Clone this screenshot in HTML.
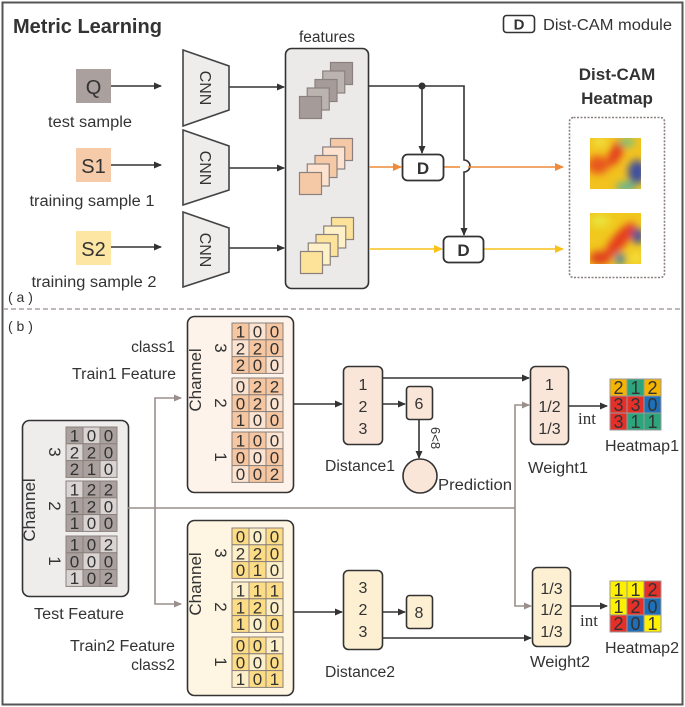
<!DOCTYPE html>
<html><head><meta charset="utf-8"><style>
body{margin:0;background:#fff;}
svg{display:block;font-family:"Liberation Sans",sans-serif;}
</style></head><body>
<svg id="s" width="685" height="707" viewBox="0 0 685 707" xmlns="http://www.w3.org/2000/svg">
<defs>
<marker id="ak" markerWidth="8" markerHeight="8" refX="7" refY="4" orient="auto" markerUnits="userSpaceOnUse"><path d="M0,0.5 L8,4 L0,7.5 z" fill="#333"/></marker>
<marker id="ao" markerWidth="9" markerHeight="9" refX="8" refY="4.5" orient="auto" markerUnits="userSpaceOnUse"><path d="M0,0.5 L9,4.5 L0,8.5 z" fill="#ee8a3a"/></marker>
<marker id="ay" markerWidth="9" markerHeight="9" refX="8" refY="4.5" orient="auto" markerUnits="userSpaceOnUse"><path d="M0,0.5 L9,4.5 L0,8.5 z" fill="#f8c21c"/></marker>
<marker id="ag" markerWidth="8" markerHeight="8" refX="7" refY="4" orient="auto" markerUnits="userSpaceOnUse"><path d="M0,0.5 L8,4 L0,7.5 z" fill="#9a8f8c"/></marker>
<filter id="bl" x="-20%" y="-20%" width="140%" height="140%"><feGaussianBlur stdDeviation="4"/></filter>
<clipPath id="c1"><rect x="590" y="138" width="51" height="51"/></clipPath>
<clipPath id="c2"><rect x="590" y="213" width="51" height="51"/></clipPath>
</defs>
<rect x="2.5" y="2.5" width="680" height="702" fill="#fff" stroke="#555" stroke-width="2"/>
<line x1="3" y1="309" x2="682" y2="309" stroke="#a8a09e" stroke-width="1.5" stroke-dasharray="5,3"/>

<text x="13" y="33" font-size="20" font-weight="bold" fill="#333">Metric Learning</text>
<rect x="503.5" y="15.5" width="31" height="17" rx="3" fill="#fff" stroke="#333" stroke-width="1.6"/>
<text x="519" y="29.5" font-size="15" font-weight="bold" text-anchor="middle" fill="#333">D</text>
<text x="543" y="30" font-size="15.5" fill="#333" textLength="129" lengthAdjust="spacingAndGlyphs">Dist-CAM module</text>
<text x="327" y="42" font-size="15.5" text-anchor="middle" fill="#333">features</text>
<text x="617" y="80" font-size="17" font-weight="bold" text-anchor="middle" fill="#333">Dist-CAM</text>
<text x="617" y="104" font-size="17" font-weight="bold" text-anchor="middle" fill="#333">Heatmap</text>

<rect x="76" y="69" width="35" height="34" fill="#aaa09d"/>
<text x="93.5" y="94" font-size="20" text-anchor="middle" fill="#333">Q</text>
<text x="90" y="127" font-size="15.5" text-anchor="middle" fill="#333" textLength="84" lengthAdjust="spacingAndGlyphs">test sample</text>
<rect x="76" y="148" width="35" height="34" fill="#f6cba9"/>
<text x="93.5" y="173" font-size="20" text-anchor="middle" fill="#333">S1</text>
<text x="92" y="206" font-size="15.5" text-anchor="middle" fill="#333" textLength="125" lengthAdjust="spacingAndGlyphs">training sample 1</text>
<rect x="76" y="231" width="35" height="34" fill="#fde6a4"/>
<text x="93.5" y="256" font-size="20" text-anchor="middle" fill="#333">S2</text>
<text x="94" y="287" font-size="15.5" text-anchor="middle" fill="#333" textLength="125" lengthAdjust="spacingAndGlyphs">training sample 2</text>
<g stroke="#333" stroke-width="1.6" fill="none">
<line x1="111" y1="86" x2="161" y2="86" marker-end="url(#ak)"/>
<line x1="111" y1="165" x2="161" y2="165" marker-end="url(#ak)"/>
<line x1="111" y1="247" x2="161" y2="247" marker-end="url(#ak)"/>
<line x1="229" y1="87" x2="284" y2="87" marker-end="url(#ak)"/>
<line x1="229" y1="168" x2="284" y2="168" marker-end="url(#ak)"/>
<line x1="229" y1="248" x2="284" y2="248" marker-end="url(#ak)"/>
</g>
<g fill="#efecec" stroke="#444" stroke-width="1.6">
<path d="M183,50 L229,66 L229,110 L183,126 Z"/>
<path d="M183,130 L229,146 L229,190 L183,205 Z"/>
<path d="M183,212 L229,228 L229,272 L183,287 Z"/>
</g>
<g font-size="16" fill="#333" text-anchor="middle">
<text transform="translate(200,88) rotate(90)">CNN</text>
<text transform="translate(200,168) rotate(90)">CNN</text>
<text transform="translate(200,250) rotate(90)">CNN</text>
</g>
<rect x="285.5" y="48.5" width="83" height="240" rx="6" fill="#ece9e9" stroke="#333" stroke-width="1.6"/>
<g id="stacks"></g>

<g fill="none" stroke-width="1.6">
<path d="M369,86 L464,86 L464,160 A6,6 0 0 1 464,172 L464,235" stroke="#333" marker-end="url(#ak)"/>
<line x1="422" y1="86" x2="422" y2="153" stroke="#333" marker-end="url(#ak)"/>
<line x1="369" y1="167" x2="401" y2="167" stroke="#ee8a3a" marker-end="url(#ao)"/>
<line x1="444" y1="167" x2="460" y2="167" stroke="#ee8a3a"/>
<line x1="468" y1="167" x2="563" y2="167" stroke="#ee8a3a" marker-end="url(#ao)"/>
<line x1="369" y1="249" x2="442" y2="249" stroke="#f8c21c" marker-end="url(#ay)"/>
<line x1="484" y1="249" x2="563" y2="249" stroke="#f8c21c" marker-end="url(#ay)"/>
</g>
<circle cx="422" cy="86" r="3.5" fill="#333"/>
<rect x="402.5" y="154.5" width="41" height="26" rx="5" fill="#fff" stroke="#333" stroke-width="1.8"/>
<text x="423" y="174" font-size="17" font-weight="bold" text-anchor="middle" fill="#333">D</text>
<rect x="443.5" y="236.5" width="40" height="26" rx="5" fill="#fff" stroke="#333" stroke-width="1.8"/>
<text x="463.5" y="256" font-size="17" font-weight="bold" text-anchor="middle" fill="#333">D</text>
<rect x="569.5" y="117.5" width="95" height="160" rx="4" fill="none" stroke="#8a807d" stroke-width="1.6" stroke-dasharray="2,1.5"/>
<g clip-path="url(#c1)"><rect x="590" y="138" width="51" height="51" fill="#f2c21e"/>
<g filter="url(#bl)">
<ellipse cx="598" cy="165" rx="11" ry="9" fill="#e8571c"/>
<ellipse cx="616" cy="153" rx="6" ry="14" fill="#e23a1e" transform="rotate(25 616 153)"/>
<ellipse cx="637" cy="172" rx="9" ry="12" fill="#3c4fa0"/>
<ellipse cx="626" cy="187" rx="10" ry="5" fill="#5fb39a"/>
<ellipse cx="627" cy="142" rx="8" ry="5" fill="#7fc07a"/>
<ellipse cx="600" cy="142" rx="8" ry="5" fill="#f0e040"/>
</g></g>
<g clip-path="url(#c2)"><rect x="590" y="213" width="51" height="51" fill="#f0c81e"/>
<g filter="url(#bl)">
<ellipse cx="620" cy="240" rx="7" ry="22" fill="#e53a1e" transform="rotate(40 620 240)"/>
<ellipse cx="600" cy="258" rx="11" ry="7" fill="#e0401e"/>
<ellipse cx="638" cy="236" rx="6" ry="8" fill="#3c4fa0"/>
<ellipse cx="620" cy="259" rx="5" ry="6" fill="#3a82b0"/>
<ellipse cx="636" cy="258" rx="6" ry="6" fill="#f5e040"/>
<ellipse cx="600" cy="221" rx="10" ry="6" fill="#eae43c"/>
</g></g>
<text x="8" y="302" font-size="14" fill="#333">( a )</text>

<text x="8" y="331" font-size="14" fill="#333">( b )</text>
<g font-size="15.5" fill="#333">
<text x="175" y="352" text-anchor="end">class1</text>
<text x="176" y="379" text-anchor="end" textLength="104" lengthAdjust="spacingAndGlyphs">Train1 Feature</text>
<text x="124" y="619" text-anchor="end" textLength="90" lengthAdjust="spacingAndGlyphs">Test Feature</text>
<text x="175" y="651" text-anchor="end" textLength="105" lengthAdjust="spacingAndGlyphs">Train2 Feature</text>
<text x="175" y="670" text-anchor="end">class2</text>
</g>
<rect x="187.5" y="316.5" width="106" height="176" rx="7" fill="#fdf3ea" stroke="#333" stroke-width="1.6"/>
<rect x="22.5" y="420.5" width="106" height="176" rx="7" fill="#efecec" stroke="#333" stroke-width="1.6"/>
<rect x="187.5" y="520.5" width="106" height="175" rx="7" fill="#fef6e2" stroke="#333" stroke-width="1.6"/>
<g id="grids"></g>

<g fill="none" stroke-width="1.6">
<path d="M128,508 L515,508" stroke="#9a8f8c"/>
<path d="M155,508 L155,398 L181,398" stroke="#9a8f8c" marker-end="url(#ag)"/>
<path d="M155,508 L155,604 L181,604" stroke="#9a8f8c" marker-end="url(#ag)"/>
<path d="M515,508 L515,405 L529,405" stroke="#9a8f8c" marker-end="url(#ag)"/>
<path d="M515,508 L515,606 L531,606" stroke="#9a8f8c" marker-end="url(#ag)"/>
<line x1="293" y1="404" x2="342" y2="404" stroke="#333" marker-end="url(#ak)"/>
<line x1="293" y1="612" x2="342" y2="612" stroke="#333" marker-end="url(#ak)"/>
<line x1="383" y1="378" x2="529" y2="378" stroke="#333" marker-end="url(#ak)"/>
<line x1="383" y1="404" x2="405" y2="404" stroke="#333" marker-end="url(#ak)"/>
<line x1="419" y1="419" x2="419" y2="458" stroke="#333" marker-end="url(#ak)"/>
<line x1="383" y1="612" x2="405" y2="612" stroke="#333" marker-end="url(#ak)"/>
<line x1="383" y1="638" x2="531" y2="638" stroke="#333" marker-end="url(#ak)"/>
<line x1="569" y1="406" x2="607" y2="406" stroke="#333" marker-end="url(#ak)"/>
<line x1="571" y1="606" x2="607" y2="606" stroke="#333" marker-end="url(#ak)"/>
</g>
<g stroke="#333" stroke-width="1.6">
<rect x="343.5" y="366.5" width="39" height="78" rx="5" fill="#fae6d8"/>
<rect x="406.5" y="386.5" width="26" height="33" rx="3" fill="#fae6d8"/>
<circle cx="420" cy="476" r="17" fill="#fae6d8"/>
<rect x="530.5" y="366.5" width="38" height="78" rx="5" fill="#fae6d8"/>
<rect x="343.5" y="570.5" width="39" height="79" rx="5" fill="#fdf0d2"/>
<rect x="406.5" y="595.5" width="26" height="33" rx="3" fill="#fdf0d2"/>
<rect x="532.5" y="567.5" width="38" height="79" rx="5" fill="#fdf0d2"/>
</g>
<g font-size="16" fill="#333" text-anchor="middle">
<text x="363" y="390">1</text><text x="363" y="412">2</text><text x="363" y="434">3</text>
<text x="419" y="409">6</text>
<text x="549.5" y="390">1</text><text x="549.5" y="412">1/2</text><text x="549.5" y="434">1/3</text>
<text x="363" y="593">3</text><text x="363" y="615">2</text><text x="363" y="637">3</text>
<text x="419" y="618">8</text>
<text x="551.5" y="594">1/3</text><text x="551.5" y="615">1/2</text><text x="551.5" y="637">1/3</text>
</g>
<g font-size="15.5" fill="#333">
<text x="360" y="471" text-anchor="middle" textLength="70" lengthAdjust="spacingAndGlyphs">Distance1</text>
<text x="360" y="677" text-anchor="middle" textLength="70" lengthAdjust="spacingAndGlyphs">Distance2</text>
<text x="558" y="473" text-anchor="middle" textLength="60" lengthAdjust="spacingAndGlyphs">Weight1</text>
<text x="560" y="667" text-anchor="middle" textLength="60" lengthAdjust="spacingAndGlyphs">Weight2</text>
<text x="438" y="490" textLength="74" lengthAdjust="spacingAndGlyphs">Prediction</text>
<text x="642" y="451" text-anchor="middle" textLength="74" lengthAdjust="spacingAndGlyphs">Heatmap1</text>
<text x="642" y="653" text-anchor="middle" textLength="74" lengthAdjust="spacingAndGlyphs">Heatmap2</text>
<text transform="translate(431,427) rotate(90)" font-size="13">6&lt;8</text>
</g>
<g font-family="Liberation Serif,serif" font-size="17" fill="#333">
<text x="578" y="424">int</text>
<text x="580" y="626">int</text>
</g>
<g id="hm"></g>
</svg>
<script>
var NS="http://www.w3.org/2000/svg";
function el(p,t,a,txt){var e=document.createElementNS(NS,t);for(var k in a)e.setAttribute(k,a[k]);if(txt!=null)e.textContent=txt;p.appendChild(e);return e;}
var st=document.getElementById('stacks');
function stack(bx,by,cs){for(var i=4;i>=0;i--){el(st,'rect',{x:bx+i*7.75,y:by-i*8.5,width:22,height:22,fill:cs[i%2],stroke:'#8a807d','stroke-width':1.2});}}
stack(299.5,96.5,['#a59c99','#bbb3b0']);
stack(299.5,172.5,['#f5c9a6','#fce2cf']);
stack(300.5,251.5,['#fde29a','#fef1c8']);
var g=document.getElementById('grids');
function grid(x,ys,data,dark,light,cx,cyl){
 for(var b=0;b<3;b++){for(var r=0;r<3;r++){for(var c=0;c<3;c++){
  var v=data[b][r][c];var y=ys[b]+r*16.8;
  el(g,'rect',{x:x+c*17,y:y,width:17,height:16.8,fill:((r+c+b)%3==1)?light:dark,stroke:'#8a807d','stroke-width':1});
  el(g,'text',{x:x+c*17+8.5,y:y+14.5,'font-size':17,'text-anchor':'middle',fill:'#333'},v);
 }}}
 var labs=['3','2','1'];
 for(var b=0;b<3;b++){el(g,'text',{transform:'translate('+(cx+11)+','+(ys[b]+25)+') rotate(90)','font-size':17,'text-anchor':'middle',fill:'#333'},labs[b]);}
 el(g,'text',{transform:'translate('+(cx-3)+','+cyl+') rotate(-90)','font-size':17,'text-anchor':'middle',fill:'#333'},'Channel');
}
grid(232,[323,378,432],[["100","220","200"],["022","020","100"],["100","000","002"]],'#f5c6a0','#fbe3d0',204,380);
grid(66,[427,481,536],[["100","220","210"],["122","120","100"],["102","000","102"]],'#aaa19e','#d9d4d2',38,510);
grid(232,[528,582,637],[["000","220","010"],["111","120","100"],["001","000","101"]],'#fddc86','#fdf0c8',204,584);
var h=document.getElementById('hm');
function hm(x,y,vals,cols){for(var r=0;r<3;r++)for(var c=0;c<3;c++){
 el(h,'rect',{x:x+c*17,y:y+r*17,width:17,height:17,fill:cols[r][c],stroke:'#999','stroke-width':1});
 el(h,'text',{x:x+c*17+8.5,y:y+r*17+15,'font-size':18,'text-anchor':'middle',fill:'#333'},vals[r][c]);}}
var O='#f5b400',T='#2da57c',R='#e5302a',B='#1f6fb8',Y='#fff000';
hm(610,379,["212","330","311"],[[O,T,O],[R,R,B],[R,T,T]]);
hm(610,581,["112","120","201"],[[Y,Y,R],[Y,R,B],[R,B,Y]]);
</script>
</body></html>
